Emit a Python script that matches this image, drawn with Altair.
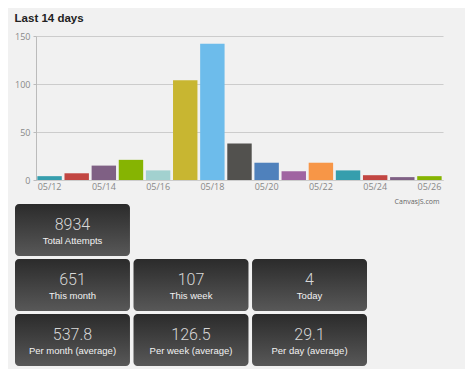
import altair as alt
import pandas as pd

# ---- data -------------------------------------------------------------
dates = ["05/12", "05/13", "05/14", "05/15", "05/16", "05/17", "05/18", "05/19",
         "05/20", "05/21", "05/22", "05/23", "05/24", "05/25", "05/26"]
attempts = [4, 7, 15, 21, 10, 104, 142, 38, 18, 9, 18, 10, 5, 3, 4]
bar_colors = ["#369EAD", "#C24642", "#7F6084", "#86B402", "#A2D1CF", "#C8B631",
              "#6DBCEB", "#52514E", "#4F81BC", "#A064A1", "#F79647", "#369EAD",
              "#C24642", "#7F6084", "#86B402"]
x_labels = ["05/12", "05/14", "05/16", "05/18", "05/20", "05/22", "05/24", "05/26"]
y_ticks = [0, 50, 100, 150]

tile_values = ["8934", "651", "107", "4", "537.8", "126.5", "29.1"]
tile_labels = ["Total Attempts", "This month", "This week", "Today",
               "Per month (average)", "Per week (average)", "Per day (average)"]
tile_rows = [0, 1, 1, 1, 2, 2, 2]
tile_cols = [0, 0, 1, 2, 0, 1, 2]

bars_df = pd.DataFrame({"date": dates, "attempts": attempts, "color": bar_colors})
tiles_df = pd.DataFrame({"value": tile_values, "label": tile_labels,
                         "row": tile_rows, "col": tile_cols})

AXIS_FONT = "Open Sans"

bars = alt.Chart(bars_df).mark_bar().encode(
    x=alt.X("date:N", sort=dates,
            scale=alt.Scale(paddingInner=0.1, paddingOuter=0.05),
            axis=alt.Axis(values=x_labels, labelAngle=0, ticks=False, domain=True,
                          domainColor="#cccccc", labelColor="#888888", labelFontSize=9,
                          labelFont=AXIS_FONT, labelPadding=2, grid=False,
                          title="CanvasJS.com", titleFontSize=7, titleColor="#666666",
                          titleFont=AXIS_FONT, titleFontWeight="normal",
                          titleAnchor="end", titlePadding=6, titleX=403, titleAlign="right")),
    y=alt.Y("attempts:Q", scale=alt.Scale(domain=[0, 150], nice=False),
            axis=alt.Axis(values=y_ticks, title=None, grid=True, gridColor="#cccccc",
                          gridWidth=1.2, domainColor="#bbbbbb", tickColor="#bbbbbb",
                          tickSize=3, labelPadding=3, labelColor="#888888",
                          labelFontSize=9, labelFont=AXIS_FONT)),
    color=alt.Color("color:N", scale=None),
).properties(width=407, height=144)

base = alt.Chart(tiles_df).encode(
    x=alt.X("col:O", scale=alt.Scale(domain=[0, 1, 2], paddingInner=0.03, paddingOuter=0,
                                     range=[-21, 331]), axis=None),
    y=alt.Y("row:O", scale=alt.Scale(domain=[0, 1, 2], paddingInner=0.055, paddingOuter=0), axis=None),
)
rects = base.mark_rect(
    cornerRadius=4,
    color=alt.Gradient(gradient="linear", x1=0, y1=0, x2=0, y2=1,
                       stops=[alt.GradientStop(color="#2b2b2b", offset=0),
                              alt.GradientStop(color="#585858", offset=1)]),
)
nums = base.mark_text(font="Roboto", fontWeight=300, fontSize=16, color="#d8d8d8",
                      baseline="middle", dy=-5).encode(text="value:N")
labs = base.mark_text(font="Liberation Sans", fontSize=9.5, color="#f2f2f2",
                      baseline="middle", dy=11).encode(text="label:N")
tiles = (rects + nums + labs).properties(width=331, height=162)

chart = alt.concat(bars, tiles, columns=1, spacing=0).properties(
    title=alt.TitleParams("Last 14 days", anchor="start", fontSize=11.5,
                          font="Liberation Sans", fontWeight="bold", color="#222222",
                          offset=8),
    padding={"left": 6, "top": 4, "right": 22, "bottom": 3},
).configure(background="#f1f1f1").configure_view(stroke=None)

chart.save("out.html", embed_options={"renderer": "svg", "actions": False})
